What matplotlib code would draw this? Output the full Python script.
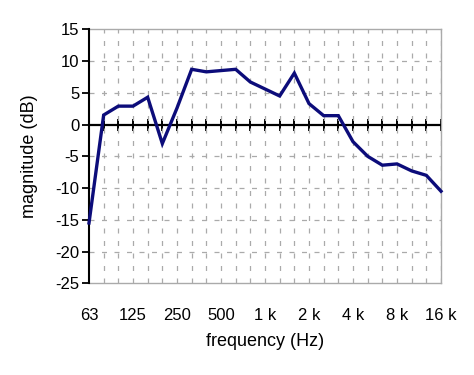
import matplotlib
matplotlib.use("Agg")
import matplotlib.pyplot as plt
import numpy as np

plt.rcParams['font.family'] = ['Liberation Sans', 'DejaVu Sans']

categories = ["63", "80", "100", "125", "160", "200", "250", "315", "400", "500",
              "630", "800", "1 k", "1.25 k", "1.6 k", "2 k", "2.5 k", "3.15 k",
              "4 k", "5 k", "6.3 k", "8 k", "10 k", "12.5 k", "16 k"]
magnitude = [-15.5, 1.5, 2.9, 2.9, 4.3, -3.0, 2.6, 8.7, 8.3, 8.5,
             8.7, 6.7, 5.6, 4.5, 8.1, 3.3, 1.4, 1.4, -2.7, -5.0,
             -6.4, -6.2, -7.3, -8.0, -10.5]
tick_labels = ["63", "125", "250", "500", "1 k", "2 k", "4 k", "8 k", "16 k"]
y_ticks = [15, 10, 5, 0, -5, -10, -15, -20, -25]

fig = plt.figure(figsize=(4.74, 3.75), dpi=100)
ax = fig.add_axes([89/474, 1-283.3/375, (441-89)/474, (283.3-29.3)/375])

x = np.arange(len(categories))
ax.plot(x, magnitude, color='#0c0c7a', linewidth=2.4, zorder=5, clip_on=False,
        solid_joinstyle='miter')

ax.set_xlim(0, len(categories) - 1)
ax.set_ylim(-25, 15)

# grid
for xi in x[1:]:
    ax.axvline(xi, color='#aaaaaa', linewidth=0.9, linestyle=(0, (4, 6)), zorder=1)
for yv in y_ticks:
    if yv not in (15, -25, 0):
        ax.axhline(yv, color='#aaaaaa', linewidth=0.9, linestyle=(0, (4, 6)), zorder=1)

# zero axis line
ax.axhline(0, color='black', linewidth=1.6, zorder=3)

ax.set_yticks(y_ticks)
ax.set_yticklabels([str(v) for v in y_ticks])
ax.tick_params(axis='y', direction='out', length=5, width=1.3, labelsize=12, pad=2)

label_pos = [categories.index(t) for t in tick_labels]
ax.set_xticks(label_pos)
ax.set_xticklabels(tick_labels)
ax.tick_params(axis='x', length=0, labelsize=12, pad=18)

for s in ['top', 'right', 'bottom']:
    ax.spines[s].set_color('#aaaaaa')
    ax.spines[s].set_linewidth(1.0)
ax.spines['left'].set_color('black')
ax.spines['left'].set_linewidth(1.5)
ax.spines['left'].set_zorder(4)

# category ticks on the zero axis
sec = ax.secondary_xaxis(25/40)
sec.set_xticks(x)
sec.set_xticklabels([''] * len(x))
sec.tick_params(direction='inout', length=9, width=1.4, color='black')
for s in sec.spines.values():
    s.set_visible(False)

ax.set_xlabel('frequency (Hz)', fontsize=13, labelpad=7)
ax.set_ylabel('magnitude (dB)', fontsize=13, labelpad=12)

fig.savefig('out.png', dpi=100)
